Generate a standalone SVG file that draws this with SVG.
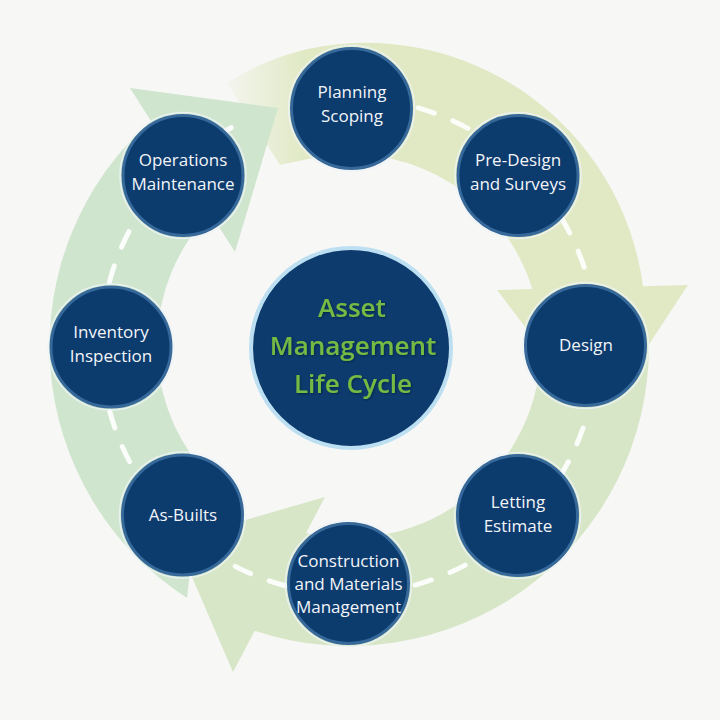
<svg xmlns="http://www.w3.org/2000/svg" width="720" height="720" viewBox="0 0 720 720">
<defs>
<style>
.bg{fill:#f7f7f6}
.a1{fill:url(#tailfade)}
.a2{fill:#d6e6c6}
.a3{fill:#cfe5cd}
.dash{fill:none;stroke:#ffffff;stroke-width:5;stroke-linecap:round;stroke-dasharray:17 20;opacity:0.9}
.node{fill:#0c3b6d;stroke:#36689a;stroke-width:3}
.halo{fill:none;stroke:#eef4f8;stroke-width:1.5;opacity:0.8}
.lbl{font-family:"Open Sans","Noto Sans","Liberation Sans",sans-serif;font-size:17px;fill:#f3f5f9;text-anchor:middle}
.hub{fill:#0d3b6d;stroke:#bddff2;stroke-width:4}
.hubtxt{font-family:"Open Sans","Noto Sans","Liberation Sans",sans-serif;font-size:26px;font-weight:600;fill:#74ba43;text-anchor:middle}
</style>
<linearGradient id="tailfade" gradientUnits="userSpaceOnUse" x1="227" y1="0" x2="305" y2="0">
<stop offset="0" stop-color="#e0e9c4" stop-opacity="0.15"/>
<stop offset="1" stop-color="#e0e9c4" stop-opacity="1"/>
</linearGradient>
<filter id="shadow" x="-10%" y="-10%" width="120%" height="120%">
<feDropShadow dx="1" dy="1" stdDeviation="0.8" flood-color="#06203d" flood-opacity="0.8"/>
</filter>
</defs>
<rect class="bg" x="0" y="0" width="720" height="720"/>
<g id="connectors">
<path id="arrow-top" class="a1" d="M227,83 Q262,60 307.3,48.9 A280,280 0 0 1 643,286.2 L688,285 L598,422 L497,290 L532.4,289.1 A192,192 0 0 0 322.3,155.9 L280,165 Z"/>
<path id="arrow-right" class="a2" d="M541,346 L649,346 A300,300 0 0 1 254.7,630.8 L233,672 L176,540 L325,497 L306,533 A192,192 0 0 0 541,346 Z"/>
<path id="arrow-left" class="a3" d="M187,598 A300,300 0 0 1 151,121 L130,88 L278,108 L235,252 L210,213 A192,192 0 0 0 202,469 Z"/>
<path class="dash" d="M418.2,107.8 A248,248 0 0 1 586.2,273.5"/>
<path class="dash" d="M583.1,428 A248,248 0 0 1 232.6,565"/>
<path class="dash" d="M129.6,461.7 A248,248 0 0 1 244.2,121.2"/>
</g>
<g id="hub">
<circle class="hub" cx="351" cy="348" r="100"/>
<g filter="url(#shadow)">
<text class="hubtxt" x="352" y="317">Asset</text>
<text class="hubtxt" x="353" y="355">Management</text>
<text class="hubtxt" x="353" y="393">Life Cycle</text>
</g>
</g>
<g id="planning">
<circle class="halo" cx="351.5" cy="108.5" r="63"/>
<circle class="node" cx="351.5" cy="108.5" r="60"/>
<text class="lbl" x="352" y="98">Planning</text>
<text class="lbl" x="352" y="122">Scoping</text>
</g>
<g id="predesign">
<circle class="halo" cx="518" cy="175.5" r="63"/>
<circle class="node" cx="518" cy="175.5" r="60"/>
<text class="lbl" x="518" y="166">Pre-Design</text>
<text class="lbl" x="518" y="190">and Surveys</text>
</g>
<g id="design">
<circle class="halo" cx="585.5" cy="345.5" r="63"/>
<circle class="node" cx="585.5" cy="345.5" r="60"/>
<text class="lbl" x="586" y="351">Design</text>
</g>
<g id="letting">
<circle class="halo" cx="517.5" cy="515.5" r="63"/>
<circle class="node" cx="517.5" cy="515.5" r="60"/>
<text class="lbl" x="518" y="508">Letting</text>
<text class="lbl" x="518" y="532">Estimate</text>
</g>
<g id="construction">
<circle class="halo" cx="348.5" cy="583.5" r="63"/>
<circle class="node" cx="348.5" cy="583.5" r="60"/>
<text class="lbl" x="348.5" y="567">Construction</text>
<text class="lbl" x="348.5" y="590">and Materials</text>
<text class="lbl" x="348.5" y="613">Management</text>
</g>
<g id="asbuilts">
<circle class="halo" cx="182.5" cy="515" r="63"/>
<circle class="node" cx="182.5" cy="515" r="60"/>
<text class="lbl" x="183" y="521">As-Builts</text>
</g>
<g id="inventory">
<circle class="halo" cx="111" cy="347" r="63"/>
<circle class="node" cx="111" cy="347" r="60"/>
<text class="lbl" x="111" y="338">Inventory</text>
<text class="lbl" x="111" y="362">Inspection</text>
</g>
<g id="operations">
<circle class="halo" cx="183" cy="175.5" r="63"/>
<circle class="node" cx="183" cy="175.5" r="60"/>
<text class="lbl" x="183" y="166">Operations</text>
<text class="lbl" x="183" y="190">Maintenance</text>
</g>
</svg>
